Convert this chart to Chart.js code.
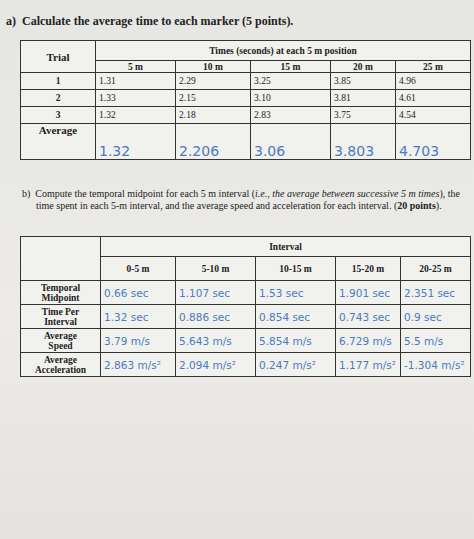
<!DOCTYPE html>
<html><head><meta charset="utf-8">
<script src="https://cdn.jsdelivr.net/npm/chart.js"></script>
<style>
body{margin:0;width:474px;height:539px;background:linear-gradient(#e6e6e2,#ecebe8 60%,#e4e3df);font-family:"Liberation Serif",serif;color:#222;overflow:hidden;position:relative}
.t{position:absolute;font-weight:bold;font-size:12px}
table{position:absolute;border-collapse:collapse;background:#f1f1ee;font-size:9.5px;table-layout:fixed}
td,th{border:1.5px solid #333;padding:0 3px;font-weight:normal;overflow:hidden}
th{font-weight:bold;text-align:center}
.hw{font-family:"DejaVu Sans",sans-serif;color:#4a7ac0;font-size:12px;white-space:nowrap}
.lab{font-weight:bold;text-align:center;line-height:10px}
</style></head><body>
<div class="t" style="left:6px;top:14px">a)&nbsp; Calculate the average time to each marker (5 points).</div>
<table id="t1" style="left:20px;top:40px;width:450px"></table>
<div style="position:absolute;left:22px;top:188px;width:430px;font-size:10px;line-height:12px;padding-left:14px;text-indent:-14px">b)&nbsp; Compute the temporal midpoint for each 5 m interval (<i>i.e., the average between successive 5 m times</i>), the time spent in each 5-m interval, and the average speed and acceleration for each interval. (<b>20 points</b>).</div>
<table id="t2" style="left:20px;top:236px;width:450px"></table>
<canvas id="c" width="1" height="1" style="position:absolute;left:0;top:0"></canvas>
<script>
const positions=["5 m","10 m","15 m","20 m","25 m"];
const trials=["1","2","3"];
const trialTimes=[[1.31,2.29,3.25,3.85,4.96],[1.33,2.15,3.10,3.81,4.61],[1.32,2.18,2.83,3.75,4.54]];
const averages=["1.32","2.206","3.06","3.803","4.703"];
const intervals=["0-5 m","5-10 m","10-15 m","15-20 m","20-25 m"];
const rowLabels=["Temporal<br>Midpoint","Time Per<br>Interval","Average<br>Speed","Average<br>Acceleration"];
const midpoints=["0.66 sec","1.107 sec","1.53 sec","1.901 sec","2.351 sec"];
const timePer=["1.32 sec","0.886 sec","0.854 sec","0.743 sec","0.9 sec"];
const speeds=["3.79 m/s","5.643 m/s","5.854 m/s","6.729 m/s","5.5 m/s"];
const accels=["2.863 m/s²","2.094 m/s²","0.247 m/s²","1.177 m/s²","-1.304 m/s²"];
const w1=[75,80,75,80,65,75];
let h='<colgroup>'+w1.map(w=>'<col style="width:'+w+'px">').join('')+'</colgroup><tr style="height:20px"><th rowspan=2 style="font-size:11px">Trial</th><th colspan=5>Times (seconds) at each 5 m position</th></tr><tr style="height:12px">';
positions.forEach(p=>h+='<th>'+p+'</th>');h+='</tr>';
trials.forEach((t,i)=>{h+='<tr style="height:17px"><th>'+t+'</th>';trialTimes[i].forEach(v=>h+='<td>'+v.toFixed(2)+'</td>');h+='</tr>';});
h+='<tr style="height:36px"><th style="vertical-align:top;font-size:11px">Average</th>';
averages.forEach(v=>h+='<td class="hw" style="vertical-align:bottom;font-size:14px">'+v+'</td>');h+='</tr>';
document.getElementById('t1').innerHTML=h;
const w2=[80,75,80,80,65,70];
let g='<colgroup>'+w2.map(w=>'<col style="width:'+w+'px">').join('')+'</colgroup><tr style="height:20px"><td rowspan=2></td><th colspan=5>Interval</th></tr><tr style="height:24px">';
intervals.forEach(p=>g+='<th>'+p+'</th>');g+='</tr>';
[midpoints,timePer,speeds,accels].forEach((arr,i)=>{g+='<tr style="height:24px"><td class="lab">'+rowLabels[i]+'</td>';arr.forEach(v=>g+='<td class="hw" style="font-size:10.5px">'+v+'</td>');g+='</tr>';});
document.getElementById('t2').innerHTML=g;
new Chart(document.getElementById('c'),{type:'bar',data:{labels:[],datasets:[]},options:{responsive:false,animation:false,plugins:{legend:{display:false}},scales:{x:{display:false},y:{display:false}}}});
</script></body></html>
